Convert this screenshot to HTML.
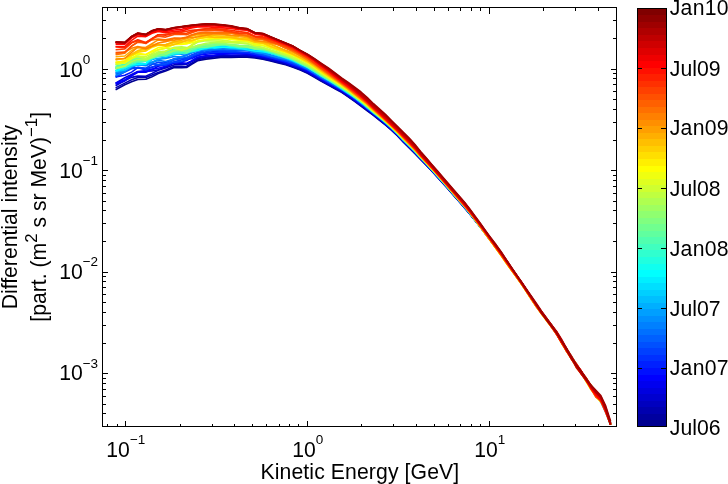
<!DOCTYPE html>
<html lang="en"><head><meta charset="utf-8"><title>Differential intensity vs Kinetic Energy</title>
<style>html,body{margin:0;padding:0;background:#fff;}svg{display:block;}</style></head>
<body>
<svg width="728" height="484" viewBox="0 0 728 484">
<rect width="728" height="484" fill="#fff"/>
<g fill="none" stroke-width="1.6" stroke-linejoin="round" stroke-linecap="butt">
<polyline stroke="#00008f" points="115.6,89.7 124.8,84.7 131.6,81.7 137.8,79.5 145.8,79.3 152.0,76.7 158.2,73.6 165.6,71.0 174.3,67.5 181.7,67.8 186.6,67.5 191.6,64.3 197.5,60.8 206.0,59.1 214.4,58.1 222.8,57.1 231.0,57.5 239.1,57.3 247.2,57.2 255.1,57.9 262.9,59.3 270.6,61.0 278.2,62.9 285.7,64.7 293.0,67.3 300.3,70.1 307.5,73.2 314.5,77.2 321.4,81.3 328.3,85.1 335.0,88.7 341.6,92.4 348.2,96.8 354.6,101.3 361.0,106.0 367.3,110.8 373.5,115.4 379.6,120.3 385.7,125.2 391.7,130.4 397.6,136.0 403.4,142.1 409.2,148.0 415.0,153.7 420.6,159.5 426.3,165.3 431.8,171.0 437.4,177.1 442.9,183.2 448.3,189.3 453.7,195.4 459.1,201.5 464.5,207.7 469.8,214.0 475.1,220.5 480.3,227.2 485.5,233.9 490.7,240.8 495.9,247.5 501.1,254.1 506.2,261.1 511.3,268.3 516.4,275.5 521.5,282.7 526.5,290.3 531.5,298.1 536.6,305.9 541.6,312.7 546.6,319.0 551.6,325.7 556.5,332.7 561.5,340.6 566.4,348.7 571.4,357.4 576.3,365.6 581.2,372.8 586.1,379.6 591.0,386.8 595.9,394.0 600.8,399.9 605.7,410.1 610.6,424.3"/>
<polyline stroke="#0000af" points="115.6,87.9 124.8,83.1 131.6,79.8 137.8,77.5 145.8,77.5 152.0,75.1 158.2,72.4 165.6,69.9 174.3,66.3 181.7,66.6 186.6,66.2 191.6,63.3 197.5,59.9 206.0,58.0 214.4,57.0 222.8,56.1 231.0,56.4 239.1,56.2 247.2,56.2 255.1,57.2 262.9,58.7 270.6,60.5 278.2,62.3 285.7,64.1 293.0,66.8 300.3,69.6 307.5,72.7 314.5,76.6 321.4,80.8 328.3,84.6 335.0,88.2 341.6,91.9 348.2,96.3 354.6,100.8 361.0,105.5 367.3,110.3 373.5,115.1 379.6,119.9 385.7,124.8 391.7,130.0 397.6,135.6 403.4,141.6 409.2,147.5 415.0,153.3 420.6,159.1 426.3,165.0 431.8,170.7 437.4,176.8 442.9,182.9 448.3,189.0 453.7,195.2 459.1,201.3 464.5,207.7 469.8,214.0 475.1,220.4 480.3,226.9 485.5,233.5 490.7,240.3 495.9,247.2 501.1,254.0 506.2,261.1 511.3,268.2 516.4,275.4 521.5,282.8 526.5,290.6 531.5,298.3 536.6,305.8 541.6,312.6 546.6,319.1 551.6,325.7 556.5,332.7 561.5,341.1 566.4,349.1 571.4,356.8 576.3,364.3 581.2,372.1 586.1,380.1 591.0,386.9 595.9,393.2 600.8,399.6 605.7,410.5 610.6,424.1"/>
<polyline stroke="#0000bf" points="115.6,85.7 124.8,80.6 131.6,77.4 137.8,76.1 145.8,76.3 152.0,73.4 158.2,70.3 165.6,68.1 174.3,64.7 181.7,64.8 186.6,64.2 191.6,61.5 197.5,58.8 206.0,57.1 214.4,56.2 222.8,55.3 231.0,55.7 239.1,55.6 247.2,55.7 255.1,56.6 262.9,57.9 270.6,59.8 278.2,61.9 285.7,63.7 293.0,66.2 300.3,68.9 307.5,72.1 314.5,76.2 321.4,80.4 328.3,84.2 335.0,87.8 341.6,91.6 348.2,96.0 354.6,100.5 361.0,105.2 367.3,109.9 373.5,114.6 379.6,119.5 385.7,124.6 391.7,129.9 397.6,135.6 403.4,141.6 409.2,147.2 415.0,152.9 420.6,158.9 426.3,164.7 431.8,170.5 437.4,176.6 442.9,182.5 448.3,188.5 453.7,194.9 459.1,201.2 464.5,207.3 469.8,213.5 475.1,219.9 480.3,226.4 485.5,233.3 490.7,239.9 495.9,246.7 501.1,254.0 506.2,261.2 511.3,268.3 516.4,275.5 521.5,282.7 526.5,290.3 531.5,297.9 536.6,305.6 541.6,312.5 546.6,319.3 551.6,326.4 556.5,333.3 561.5,341.2 566.4,349.3 571.4,357.4 576.3,364.7 581.2,371.6 586.1,379.3 591.0,387.3 595.9,394.0 600.8,399.2 605.7,410.2 610.6,424.8"/>
<polyline stroke="#0000cf" points="115.6,83.2 124.8,77.8 131.6,74.5 137.8,71.5 145.8,71.3 152.0,71.0 158.2,69.8 165.6,67.0 174.3,62.7 181.7,63.4 186.6,64.0 191.6,61.1 197.5,57.6 206.0,56.0 214.4,55.4 222.8,54.8 231.0,55.3 239.1,55.0 247.2,54.8 255.1,55.9 262.9,57.3 270.6,59.1 278.2,61.0 285.7,62.9 293.0,65.6 300.3,68.5 307.5,71.9 314.5,75.9 321.4,79.9 328.3,83.7 335.0,87.2 341.6,90.8 348.2,95.3 354.6,99.9 361.0,104.6 367.3,109.3 373.5,114.1 379.6,119.2 385.7,124.3 391.7,129.5 397.6,135.1 403.4,141.3 409.2,146.9 415.0,152.5 420.6,158.5 426.3,164.6 431.8,170.6 437.4,176.6 442.9,182.7 448.3,188.7 453.7,194.8 459.1,201.0 464.5,207.1 469.8,213.5 475.1,220.5 480.3,227.1 485.5,233.5 490.7,240.1 495.9,247.1 501.1,254.2 506.2,261.3 511.3,268.4 516.4,275.5 521.5,282.8 526.5,290.5 531.5,298.3 536.6,305.7 541.6,312.5 546.6,319.2 551.6,325.7 556.5,332.4 561.5,340.7 566.4,349.1 571.4,357.3 576.3,365.0 581.2,372.8 586.1,380.5 591.0,387.2 595.9,393.5 600.8,399.2 605.7,409.7 610.6,423.9"/>
<polyline stroke="#0000ef" points="115.6,84.3 124.8,80.9 131.6,75.9 137.8,72.2 145.8,72.2 152.0,69.8 158.2,66.3 165.6,64.8 174.3,62.6 181.7,62.9 186.6,63.3 191.6,61.0 197.5,57.3 206.0,55.9 214.4,55.4 222.8,53.9 231.0,53.7 239.1,53.7 247.2,54.3 255.1,56.0 262.9,57.0 270.6,58.3 278.2,60.2 285.7,62.3 293.0,65.2 300.3,68.1 307.5,71.3 314.5,75.2 321.4,79.3 328.3,83.2 335.0,86.9 341.6,90.7 348.2,95.2 354.6,99.9 361.0,104.5 367.3,108.9 373.5,113.6 379.6,118.5 385.7,123.3 391.7,128.7 397.6,134.8 403.4,140.9 409.2,146.5 415.0,152.1 420.6,158.1 426.3,164.2 431.8,170.3 437.4,176.7 442.9,182.5 448.3,188.2 453.7,194.3 459.1,200.7 464.5,206.9 469.8,213.0 475.1,219.7 480.3,226.5 485.5,233.7 490.7,240.8 495.9,247.4 501.1,254.0 506.2,261.2 511.3,268.4 516.4,275.6 521.5,282.8 526.5,290.2 531.5,297.9 536.6,305.7 541.6,312.7 546.6,319.4 551.6,326.0 556.5,332.4 561.5,340.7 566.4,349.3 571.4,357.4 576.3,365.2 581.2,372.8 586.1,379.8 591.0,386.2 595.9,393.2 600.8,399.7 605.7,410.0 610.6,423.4"/>
<polyline stroke="#0000ff" points="115.6,83.2 124.8,79.7 131.6,75.6 137.8,71.7 145.8,70.6 152.0,69.1 158.2,68.2 165.6,66.2 174.3,62.3 181.7,61.8 186.6,60.5 191.6,57.3 197.5,55.1 206.0,54.3 214.4,53.4 222.8,53.2 231.0,53.7 239.1,53.1 247.2,53.2 255.1,54.6 262.9,55.9 270.6,57.7 278.2,59.7 285.7,61.7 293.0,64.3 300.3,67.2 307.5,70.7 314.5,74.7 321.4,78.7 328.3,82.6 335.0,86.3 341.6,90.1 348.2,94.6 354.6,99.2 361.0,104.0 367.3,108.6 373.5,113.5 379.6,118.3 385.7,123.3 391.7,128.8 397.6,134.5 403.4,140.6 409.2,146.2 415.0,151.9 420.6,158.0 426.3,164.1 431.8,170.0 437.4,175.9 442.9,181.9 448.3,188.0 453.7,194.3 459.1,200.3 464.5,206.3 469.8,213.0 475.1,219.9 480.3,226.2 485.5,232.9 490.7,239.8 495.9,246.8 501.1,253.9 506.2,261.1 511.3,268.3 516.4,275.6 521.5,282.9 526.5,290.5 531.5,297.9 536.6,305.2 541.6,312.3 546.6,319.5 551.6,326.2 556.5,332.9 561.5,341.3 566.4,349.3 571.4,357.7 576.3,365.7 581.2,372.0 586.1,378.4 591.0,385.7 595.9,393.0 600.8,399.6 605.7,410.5 610.6,424.2"/>
<polyline stroke="#0010ff" points="115.6,77.0 124.8,75.3 131.6,72.1 137.8,67.6 145.8,68.6 152.0,67.4 158.2,65.0 165.6,62.5 174.3,58.7 181.7,58.5 186.6,59.3 191.6,58.7 197.5,55.7 206.0,53.0 214.4,51.4 222.8,50.7 231.0,52.1 239.1,52.9 247.2,53.0 255.1,54.0 262.9,55.1 270.6,57.3 278.2,59.8 285.7,62.2 293.0,64.9 300.3,67.3 307.5,70.2 314.5,74.2 321.4,78.4 328.3,82.2 335.0,86.0 341.6,89.9 348.2,94.4 354.6,99.0 361.0,103.6 367.3,108.3 373.5,113.1 379.6,118.0 385.7,123.1 391.7,128.5 397.6,134.3 403.4,140.2 409.2,145.9 415.0,151.8 420.6,157.7 426.3,163.6 431.8,169.5 437.4,175.5 442.9,181.9 448.3,188.2 453.7,194.3 459.1,200.4 464.5,206.5 469.8,212.8 475.1,219.6 480.3,226.4 485.5,233.2 490.7,240.0 495.9,247.0 501.1,254.0 506.2,261.2 511.3,268.4 516.4,275.6 521.5,282.8 526.5,290.6 531.5,298.3 536.6,305.9 541.6,312.7 546.6,319.2 551.6,325.9 556.5,333.2 561.5,341.5 566.4,349.1 571.4,356.8 576.3,365.2 581.2,373.3 586.1,380.6 591.0,387.1 595.9,393.3 600.8,399.4 605.7,409.4 610.6,422.7"/>
<polyline stroke="#0030ff" points="115.6,77.2 124.8,71.6 131.6,67.6 137.8,67.8 145.8,70.0 152.0,66.9 158.2,64.9 165.6,65.2 174.3,61.7 181.7,59.9 186.6,58.2 191.6,55.0 197.5,52.8 206.0,52.7 214.4,52.4 222.8,51.9 231.0,52.5 239.1,52.2 247.2,52.4 255.1,54.2 262.9,55.7 270.6,57.6 278.2,59.4 285.7,61.1 293.0,63.7 300.3,66.4 307.5,69.5 314.5,73.9 321.4,78.3 328.3,82.0 335.0,85.6 341.6,89.5 348.2,93.9 354.6,98.2 361.0,102.8 367.3,108.0 373.5,113.4 379.6,118.2 385.7,123.1 391.7,128.6 397.6,134.1 403.4,139.7 409.2,145.8 415.0,152.1 420.6,158.4 426.3,164.4 431.8,170.2 437.4,176.1 442.9,182.2 448.3,188.3 453.7,194.3 459.1,200.5 464.5,207.1 469.8,213.6 475.1,220.0 480.3,226.5 485.5,233.6 490.7,240.6 495.9,247.4 501.1,254.1 506.2,261.2 511.3,268.3 516.4,275.7 521.5,283.2 526.5,290.7 531.5,297.9 536.6,305.4 541.6,312.5 546.6,319.0 551.6,325.6 556.5,333.1 561.5,341.7 566.4,349.5 571.4,357.4 576.3,365.4 581.2,372.8 586.1,380.0 591.0,386.7 595.9,393.1 600.8,398.9 605.7,409.8 610.6,424.8"/>
<polyline stroke="#0040ff" points="115.6,75.9 124.8,72.0 131.6,68.7 137.8,67.4 145.8,68.2 152.0,64.5 158.2,62.2 165.6,63.3 174.3,62.2 181.7,61.5 186.6,59.2 191.6,56.6 197.5,54.3 206.0,51.7 214.4,50.3 222.8,50.6 231.0,51.5 239.1,50.9 247.2,50.3 255.1,52.2 262.9,54.3 270.6,56.3 278.2,58.4 285.7,60.8 293.0,63.5 300.3,66.4 307.5,69.6 314.5,73.4 321.4,77.6 328.3,81.7 335.0,85.8 341.6,89.6 348.2,93.7 354.6,98.3 361.0,103.2 367.3,108.0 373.5,112.7 379.6,117.5 385.7,123.1 391.7,129.1 397.6,134.6 403.4,140.3 409.2,146.3 415.0,152.4 420.6,158.0 426.3,163.8 431.8,169.9 437.4,176.1 442.9,182.1 448.3,188.2 453.7,194.8 459.1,201.1 464.5,207.0 469.8,213.0 475.1,219.4 480.3,226.4 485.5,233.4 490.7,240.4 495.9,247.2 501.1,253.9 506.2,261.0 511.3,268.3 516.4,275.6 521.5,282.8 526.5,290.4 531.5,297.8 536.6,305.3 541.6,312.7 546.6,319.7 551.6,326.7 556.5,333.8 561.5,341.3 566.4,348.4 571.4,356.2 576.3,364.2 581.2,371.8 586.1,379.1 591.0,386.0 595.9,392.9 600.8,398.5 605.7,409.6 610.6,424.7"/>
<polyline stroke="#0050ff" points="115.6,74.2 124.8,71.1 131.6,66.9 137.8,63.5 145.8,63.8 152.0,63.8 158.2,64.6 165.6,63.9 174.3,59.9 181.7,58.2 186.6,57.3 191.6,55.6 197.5,52.6 206.0,50.5 214.4,50.1 222.8,49.7 231.0,50.4 239.1,50.5 247.2,50.4 255.1,52.8 262.9,55.0 270.6,56.4 278.2,58.1 285.7,60.5 293.0,63.0 300.3,65.7 307.5,69.1 314.5,73.5 321.4,77.7 328.3,81.7 335.0,85.7 341.6,89.4 348.2,93.6 354.6,98.3 361.0,103.1 367.3,107.5 373.5,112.5 379.6,117.7 385.7,123.1 391.7,128.7 397.6,134.2 403.4,139.9 409.2,145.8 415.0,151.7 420.6,157.7 426.3,163.6 431.8,169.2 437.4,175.1 442.9,181.4 448.3,187.5 453.7,193.9 459.1,200.4 464.5,206.9 469.8,213.3 475.1,219.7 480.3,226.0 485.5,232.9 490.7,239.8 495.9,246.7 501.1,254.0 506.2,261.1 511.3,268.2 516.4,275.7 521.5,283.1 526.5,290.7 531.5,298.3 536.6,305.9 541.6,312.9 546.6,319.8 551.6,326.4 556.5,333.2 561.5,341.2 566.4,348.7 571.4,356.8 576.3,365.0 581.2,372.1 586.1,379.5 591.0,387.8 595.9,394.1 600.8,397.9 605.7,408.2 610.6,423.7"/>
<polyline stroke="#0070ff" points="115.6,73.1 124.8,69.9 131.6,66.4 137.8,64.4 145.8,65.3 152.0,62.2 158.2,60.4 165.6,61.5 174.3,58.9 181.7,56.4 186.6,54.7 191.6,53.1 197.5,51.0 206.0,49.2 214.4,48.7 222.8,48.7 231.0,49.0 239.1,49.4 247.2,49.4 255.1,50.4 262.9,52.0 270.6,55.0 278.2,57.6 285.7,59.3 293.0,61.7 300.3,65.2 307.5,69.1 314.5,73.2 321.4,77.2 328.3,81.1 335.0,85.1 341.6,88.9 348.2,93.1 354.6,97.9 361.0,103.1 367.3,108.1 373.5,113.0 379.6,117.9 385.7,122.9 391.7,128.2 397.6,134.1 403.4,140.6 409.2,146.2 415.0,151.6 420.6,157.7 426.3,163.8 431.8,169.8 437.4,175.5 442.9,181.3 448.3,187.7 453.7,194.1 459.1,200.5 464.5,206.9 469.8,213.2 475.1,219.8 480.3,226.4 485.5,233.6 490.7,240.9 495.9,247.5 501.1,254.2 506.2,261.4 511.3,268.7 516.4,275.7 521.5,283.0 526.5,290.8 531.5,298.4 536.6,305.8 541.6,312.6 546.6,319.3 551.6,326.0 556.5,332.7 561.5,340.8 566.4,349.2 571.4,357.5 576.3,364.8 581.2,372.2 586.1,379.7 591.0,386.7 595.9,393.3 600.8,399.0 605.7,411.4 610.6,424.8"/>
<polyline stroke="#0080ff" points="115.6,75.6 124.8,71.7 131.6,67.2 137.8,64.6 145.8,65.7 152.0,62.9 158.2,59.3 165.6,58.4 174.3,56.5 181.7,57.0 186.6,55.7 191.6,52.5 197.5,50.7 206.0,50.0 214.4,49.4 222.8,48.7 231.0,48.4 239.1,48.6 247.2,50.1 255.1,52.3 262.9,53.1 270.6,55.3 278.2,57.5 285.7,59.2 293.0,61.6 300.3,65.2 307.5,68.6 314.5,72.5 321.4,76.9 328.3,80.8 335.0,84.7 341.6,89.0 348.2,93.2 354.6,97.5 361.0,102.5 367.3,107.9 373.5,113.0 379.6,117.7 385.7,122.8 391.7,128.2 397.6,133.8 403.4,139.8 409.2,145.6 415.0,151.4 420.6,157.4 426.3,163.5 431.8,169.4 437.4,175.4 442.9,181.7 448.3,188.1 453.7,194.4 459.1,200.6 464.5,206.9 469.8,213.4 475.1,220.1 480.3,226.6 485.5,233.4 490.7,240.5 495.9,247.7 501.1,254.3 506.2,261.1 511.3,268.3 516.4,275.8 521.5,283.3 526.5,290.9 531.5,298.4 536.6,306.0 541.6,312.9 546.6,319.6 551.6,326.0 556.5,332.4 561.5,340.9 566.4,349.2 571.4,357.5 576.3,365.0 581.2,371.9 586.1,379.4 591.0,386.4 595.9,392.4 600.8,397.8 605.7,409.6 610.6,424.8"/>
<polyline stroke="#008fff" points="115.6,73.0 124.8,70.3 131.6,66.5 137.8,63.4 145.8,63.7 152.0,62.0 158.2,59.7 165.6,57.1 174.3,53.8 181.7,54.2 186.6,53.8 191.6,51.7 197.5,50.0 206.0,48.8 214.4,48.0 222.8,47.5 231.0,48.7 239.1,49.4 247.2,49.9 255.1,52.2 262.9,53.4 270.6,55.6 278.2,57.3 285.7,58.6 293.0,61.3 300.3,64.8 307.5,68.1 314.5,72.1 321.4,76.2 328.3,80.1 335.0,84.0 341.6,88.1 348.2,92.8 354.6,97.4 361.0,102.2 367.3,107.2 373.5,112.3 379.6,117.0 385.7,121.9 391.7,127.3 397.6,133.0 403.4,139.4 409.2,145.6 415.0,151.5 420.6,157.4 426.3,163.2 431.8,169.2 437.4,175.5 442.9,181.7 448.3,188.1 453.7,194.5 459.1,200.5 464.5,206.3 469.8,212.6 475.1,219.6 480.3,226.5 485.5,233.5 490.7,240.5 495.9,247.3 501.1,253.9 506.2,261.2 511.3,268.6 516.4,275.7 521.5,282.9 526.5,290.4 531.5,297.9 536.6,306.0 541.6,313.5 546.6,319.9 551.6,325.7 556.5,332.4 561.5,341.2 566.4,349.5 571.4,357.0 576.3,364.8 581.2,373.0 586.1,380.5 591.0,386.8 595.9,392.4 600.8,397.4 605.7,407.9 610.6,422.4"/>
<polyline stroke="#00afff" points="115.6,71.1 124.8,68.0 131.6,65.6 137.8,65.3 145.8,64.3 152.0,59.5 158.2,58.2 165.6,57.5 174.3,52.7 181.7,52.1 186.6,51.9 191.6,50.2 197.5,48.3 206.0,45.7 214.4,45.3 222.8,46.4 231.0,47.7 239.1,48.6 247.2,48.9 255.1,50.7 262.9,51.6 270.6,53.1 278.2,55.5 285.7,58.0 293.0,61.0 300.3,64.2 307.5,67.3 314.5,71.6 321.4,76.3 328.3,80.3 335.0,84.4 341.6,89.0 348.2,93.4 354.6,97.4 361.0,102.4 367.3,107.9 373.5,112.8 379.6,117.4 385.7,122.3 391.7,127.7 397.6,133.4 403.4,139.5 409.2,145.4 415.0,151.3 420.6,157.1 426.3,163.0 431.8,169.0 437.4,175.2 442.9,181.6 448.3,188.0 453.7,194.2 459.1,200.3 464.5,206.4 469.8,212.8 475.1,219.5 480.3,226.4 485.5,233.3 490.7,240.2 495.9,247.3 501.1,254.2 506.2,261.2 511.3,268.4 516.4,275.7 521.5,283.0 526.5,290.7 531.5,298.4 536.6,305.5 541.6,311.9 546.6,318.5 551.6,325.2 556.5,332.8 561.5,341.9 566.4,349.6 571.4,356.7 576.3,364.8 581.2,373.4 586.1,380.5 591.0,387.6 595.9,395.6 600.8,402.2 605.7,412.3 610.6,424.8"/>
<polyline stroke="#00bfff" points="115.6,70.5 124.8,67.9 131.6,62.0 137.8,58.9 145.8,60.2 152.0,57.5 158.2,55.7 165.6,56.7 174.3,54.7 181.7,53.0 186.6,51.8 191.6,50.3 197.5,48.8 206.0,47.8 214.4,46.3 222.8,45.0 231.0,45.5 239.1,46.9 247.2,48.2 255.1,49.8 262.9,50.5 270.6,52.9 278.2,55.7 285.7,57.9 293.0,60.4 300.3,63.4 307.5,66.5 314.5,71.1 321.4,75.8 328.3,79.6 335.0,83.7 341.6,88.1 348.2,92.4 354.6,97.0 361.0,101.9 367.3,106.9 373.5,111.9 379.6,116.7 385.7,122.0 391.7,127.5 397.6,133.2 403.4,139.5 409.2,145.5 415.0,151.4 420.6,157.4 426.3,163.5 431.8,169.7 437.4,175.9 442.9,182.0 448.3,187.8 453.7,193.9 459.1,200.1 464.5,206.0 469.8,212.5 475.1,219.4 480.3,226.0 485.5,232.7 490.7,239.8 495.9,247.1 501.1,254.3 506.2,261.6 511.3,268.6 516.4,275.7 521.5,283.0 526.5,290.7 531.5,298.4 536.6,306.2 541.6,313.3 546.6,319.4 551.6,325.4 556.5,332.1 561.5,340.2 566.4,348.8 571.4,357.8 576.3,365.2 581.2,371.8 586.1,380.1 591.0,388.2 595.9,393.9 600.8,398.5 605.7,409.6 610.6,424.8"/>
<polyline stroke="#00cfff" points="115.6,71.1 124.8,70.0 131.6,66.2 137.8,63.8 145.8,64.1 152.0,59.1 158.2,54.4 165.6,54.1 174.3,52.3 181.7,52.6 186.6,52.6 191.6,49.6 197.5,47.4 206.0,47.8 214.4,47.5 222.8,46.9 231.0,48.1 239.1,48.7 247.2,47.6 255.1,48.2 262.9,49.8 270.6,52.5 278.2,54.9 285.7,57.8 293.0,60.8 300.3,63.5 307.5,67.0 314.5,71.6 321.4,75.6 328.3,79.4 335.0,83.8 341.6,88.0 348.2,92.4 354.6,97.1 361.0,101.8 367.3,106.6 373.5,112.1 379.6,117.2 385.7,122.2 391.7,127.7 397.6,133.7 403.4,139.9 409.2,145.5 415.0,151.4 420.6,157.4 426.3,163.2 431.8,169.4 437.4,175.8 442.9,181.9 448.3,187.8 453.7,193.7 459.1,199.9 464.5,206.3 469.8,213.0 475.1,220.0 480.3,226.8 485.5,233.8 490.7,240.7 495.9,247.2 501.1,253.9 506.2,261.0 511.3,268.4 516.4,275.9 521.5,283.3 526.5,291.0 531.5,298.8 536.6,306.5 541.6,313.3 546.6,319.5 551.6,326.0 556.5,333.1 561.5,341.3 566.4,349.1 571.4,357.7 576.3,365.6 581.2,372.0 586.1,379.1 591.0,386.7 595.9,394.0 600.8,400.1 605.7,410.7 610.6,424.8"/>
<polyline stroke="#00efff" points="115.6,67.4 124.8,66.7 131.6,63.0 137.8,60.7 145.8,59.8 152.0,54.5 158.2,53.3 165.6,55.4 174.3,54.0 181.7,53.3 186.6,51.5 191.6,49.2 197.5,49.0 206.0,48.6 214.4,46.7 222.8,45.1 231.0,45.8 239.1,48.3 247.2,49.8 255.1,51.0 262.9,51.6 270.6,53.2 278.2,55.2 285.7,57.5 293.0,60.0 300.3,63.3 307.5,67.1 314.5,71.4 321.4,75.8 328.3,79.7 335.0,83.5 341.6,87.5 348.2,92.1 354.6,96.7 361.0,101.3 367.3,106.3 373.5,111.5 379.6,116.4 385.7,121.4 391.7,127.1 397.6,133.2 403.4,139.7 409.2,145.5 415.0,150.9 420.6,157.0 426.3,163.3 431.8,169.1 437.4,175.4 442.9,181.8 448.3,187.6 453.7,193.3 459.1,199.6 464.5,206.1 469.8,212.6 475.1,219.1 480.3,226.1 485.5,233.4 490.7,240.4 495.9,247.2 501.1,254.3 506.2,261.4 511.3,268.4 516.4,275.7 521.5,283.2 526.5,290.5 531.5,297.7 536.6,305.6 541.6,313.2 546.6,319.7 551.6,326.1 556.5,333.4 561.5,341.7 566.4,349.9 571.4,358.6 576.3,366.2 581.2,372.5 586.1,379.3 591.0,387.0 595.9,392.6 600.8,398.1 605.7,411.8 610.6,424.8"/>
<polyline stroke="#00ffff" points="115.6,70.9 124.8,67.6 131.6,65.0 137.8,64.2 145.8,63.7 152.0,58.1 158.2,53.9 165.6,52.3 174.3,48.4 181.7,49.0 186.6,50.3 191.6,48.5 197.5,46.6 206.0,46.8 214.4,47.9 222.8,47.3 231.0,47.3 239.1,47.7 247.2,47.2 255.1,49.1 262.9,50.5 270.6,52.3 278.2,54.4 285.7,56.7 293.0,60.2 300.3,63.8 307.5,66.8 314.5,70.8 321.4,75.1 328.3,79.0 335.0,83.4 341.6,88.3 348.2,93.0 354.6,97.2 361.0,101.7 367.3,106.7 373.5,112.0 379.6,117.1 385.7,122.3 391.7,127.7 397.6,133.4 403.4,139.2 409.2,144.7 415.0,150.6 420.6,156.7 426.3,162.7 431.8,168.8 437.4,175.0 442.9,181.4 448.3,187.5 453.7,193.4 459.1,199.5 464.5,205.9 469.8,212.9 475.1,220.1 480.3,226.8 485.5,233.5 490.7,240.4 495.9,247.2 501.1,254.3 506.2,261.3 511.3,268.4 516.4,276.3 521.5,283.7 526.5,290.8 531.5,298.3 536.6,305.9 541.6,312.6 546.6,318.9 551.6,325.7 556.5,333.2 561.5,341.9 566.4,350.1 571.4,358.4 576.3,366.4 581.2,372.9 586.1,379.1 591.0,385.4 595.9,392.7 600.8,399.6 605.7,410.1 610.6,424.8"/>
<polyline stroke="#10ffef" points="115.6,67.8 124.8,64.6 131.6,60.7 137.8,58.6 145.8,60.1 152.0,58.8 158.2,56.2 165.6,53.5 174.3,50.5 181.7,51.5 186.6,51.9 191.6,51.6 197.5,50.4 206.0,47.8 214.4,45.9 222.8,45.0 231.0,45.3 239.1,45.8 247.2,46.2 255.1,48.5 262.9,50.2 270.6,52.7 278.2,54.9 285.7,56.8 293.0,59.8 300.3,63.7 307.5,67.3 314.5,71.5 321.4,75.9 328.3,79.8 335.0,83.8 341.6,88.2 348.2,92.7 354.6,97.0 361.0,102.0 367.3,107.2 373.5,112.3 379.6,117.3 385.7,122.4 391.7,127.6 397.6,133.1 403.4,139.0 409.2,144.7 415.0,150.8 420.6,157.1 426.3,163.2 431.8,169.0 437.4,175.2 442.9,181.8 448.3,188.1 453.7,194.0 459.1,199.9 464.5,206.1 469.8,212.8 475.1,219.5 480.3,226.2 485.5,233.7 490.7,240.9 495.9,247.3 501.1,254.3 506.2,261.7 511.3,268.9 516.4,276.1 521.5,283.2 526.5,290.9 531.5,298.8 536.6,306.1 541.6,312.7 546.6,319.4 551.6,326.3 556.5,333.5 561.5,341.5 566.4,349.3 571.4,357.2 576.3,365.2 581.2,371.8 586.1,377.9 591.0,385.8 595.9,392.9 600.8,399.2 605.7,410.9 610.6,424.4"/>
<polyline stroke="#30ffcf" points="115.6,68.1 124.8,67.8 131.6,64.5 137.8,62.2 145.8,61.3 152.0,56.6 158.2,55.3 165.6,56.2 174.3,53.3 181.7,52.1 186.6,51.2 191.6,48.8 197.5,47.2 206.0,47.3 214.4,45.9 222.8,44.2 231.0,45.6 239.1,47.4 247.2,47.7 255.1,48.9 262.9,49.8 270.6,51.9 278.2,53.7 285.7,56.3 293.0,59.8 300.3,63.2 307.5,66.8 314.5,71.3 321.4,75.5 328.3,79.7 335.0,84.1 341.6,88.0 348.2,92.2 354.6,97.0 361.0,101.7 367.3,106.5 373.5,111.7 379.6,116.6 385.7,121.5 391.7,127.2 397.6,133.1 403.4,138.9 409.2,144.5 415.0,150.7 420.6,157.1 426.3,163.0 431.8,168.8 437.4,175.1 442.9,181.2 448.3,187.5 453.7,193.9 459.1,199.9 464.5,206.0 469.8,212.7 475.1,219.5 480.3,226.3 485.5,233.5 490.7,240.4 495.9,246.8 501.1,253.9 506.2,261.2 511.3,268.4 516.4,275.6 521.5,283.0 526.5,290.7 531.5,298.3 536.6,305.9 541.6,312.9 546.6,319.4 551.6,326.4 556.5,333.9 561.5,341.8 566.4,349.2 571.4,357.0 576.3,364.7 581.2,372.7 586.1,380.3 591.0,386.8 595.9,393.9 600.8,400.1 605.7,410.3 610.6,424.7"/>
<polyline stroke="#40ffbf" points="115.6,66.3 124.8,63.9 131.6,62.3 137.8,62.0 145.8,60.9 152.0,56.2 158.2,54.0 165.6,53.9 174.3,52.1 181.7,53.0 186.6,53.3 191.6,50.9 197.5,48.4 206.0,46.8 214.4,45.4 222.8,44.2 231.0,45.3 239.1,46.5 247.2,46.1 255.1,47.9 262.9,49.9 270.6,52.2 278.2,54.3 285.7,56.7 293.0,59.7 300.3,62.9 307.5,66.0 314.5,70.3 321.4,75.1 328.3,79.3 335.0,83.3 341.6,87.3 348.2,91.8 354.6,96.8 361.0,101.7 367.3,106.6 373.5,112.1 379.6,117.2 385.7,122.1 391.7,127.4 397.6,132.7 403.4,138.5 409.2,144.5 415.0,150.7 420.6,156.9 426.3,162.9 431.8,168.7 437.4,174.8 442.9,181.1 448.3,187.2 453.7,193.4 459.1,199.6 464.5,205.6 469.8,212.0 475.1,219.1 480.3,226.4 485.5,233.6 490.7,240.5 495.9,247.1 501.1,254.1 506.2,261.4 511.3,268.6 516.4,275.8 521.5,283.3 526.5,290.8 531.5,298.2 536.6,306.1 541.6,313.3 546.6,320.0 551.6,326.7 556.5,333.7 561.5,342.4 566.4,350.4 571.4,358.2 576.3,366.2 581.2,373.2 586.1,379.6 591.0,386.4 595.9,393.7 600.8,399.4 605.7,409.6 610.6,424.7"/>
<polyline stroke="#50ffaf" points="115.6,69.1 124.8,65.1 131.6,58.9 137.8,58.2 145.8,60.4 152.0,56.8 158.2,53.0 165.6,51.5 174.3,50.2 181.7,51.2 186.6,50.4 191.6,47.7 197.5,46.2 206.0,45.9 214.4,45.3 222.8,44.3 231.0,45.7 239.1,47.4 247.2,46.7 255.1,48.0 262.9,49.2 270.6,51.8 278.2,55.1 285.7,57.5 293.0,59.3 300.3,62.4 307.5,66.6 314.5,71.1 321.4,75.5 328.3,79.4 335.0,83.2 341.6,87.2 348.2,91.5 354.6,96.3 361.0,101.5 367.3,106.7 373.5,112.2 379.6,117.0 385.7,121.9 391.7,127.7 397.6,133.7 403.4,139.3 409.2,144.8 415.0,151.0 420.6,157.4 426.3,163.0 431.8,168.9 437.4,175.3 442.9,181.4 448.3,187.2 453.7,193.4 459.1,199.7 464.5,206.0 469.8,212.8 475.1,219.9 480.3,226.6 485.5,233.2 490.7,240.4 495.9,247.7 501.1,254.7 506.2,261.8 511.3,268.8 516.4,275.9 521.5,283.3 526.5,290.5 531.5,297.9 536.6,305.9 541.6,312.8 546.6,319.1 551.6,325.3 556.5,332.0 561.5,340.4 566.4,349.1 571.4,356.9 576.3,364.1 581.2,371.8 586.1,378.9 591.0,386.2 595.9,394.1 600.8,399.0 605.7,409.5 610.6,424.8"/>
<polyline stroke="#70ff8f" points="115.6,66.8 124.8,65.6 131.6,62.9 137.8,60.7 145.8,60.6 152.0,57.3 158.2,54.7 165.6,53.8 174.3,50.2 181.7,50.8 186.6,52.1 191.6,49.5 197.5,47.3 206.0,47.1 214.4,45.5 222.8,44.2 231.0,45.0 239.1,45.8 247.2,46.9 255.1,49.1 262.9,49.3 270.6,51.3 278.2,54.0 285.7,56.3 293.0,58.9 300.3,62.2 307.5,65.4 314.5,69.8 321.4,74.5 328.3,78.8 335.0,83.0 341.6,87.1 348.2,91.8 354.6,96.4 361.0,101.0 367.3,105.8 373.5,111.2 379.6,116.5 385.7,121.7 391.7,127.4 397.6,133.4 403.4,139.6 409.2,145.3 415.0,150.8 420.6,156.8 426.3,163.1 431.8,169.2 437.4,175.4 442.9,181.6 448.3,187.8 453.7,194.1 459.1,200.2 464.5,206.2 469.8,212.7 475.1,219.6 480.3,226.7 485.5,233.6 490.7,240.7 495.9,247.7 501.1,254.7 506.2,261.9 511.3,269.0 516.4,276.3 521.5,283.8 526.5,291.0 531.5,298.1 536.6,305.6 541.6,313.1 546.6,320.4 551.6,327.0 556.5,333.4 561.5,341.3 566.4,349.6 571.4,358.6 576.3,366.5 581.2,372.9 586.1,380.2 591.0,387.4 595.9,393.2 600.8,398.8 605.7,408.7 610.6,422.1"/>
<polyline stroke="#80ff80" points="115.6,68.8 124.8,66.1 131.6,59.8 137.8,57.3 145.8,60.3 152.0,58.1 158.2,56.0 165.6,54.7 174.3,50.8 181.7,50.5 186.6,49.8 191.6,47.5 197.5,45.4 206.0,44.8 214.4,45.0 222.8,44.4 231.0,44.5 239.1,45.3 247.2,45.6 255.1,47.3 262.9,48.5 270.6,51.0 278.2,53.4 285.7,55.8 293.0,58.9 300.3,63.0 307.5,66.5 314.5,70.3 321.4,74.8 328.3,79.2 335.0,83.2 341.6,87.2 348.2,91.7 354.6,96.6 361.0,101.5 367.3,106.6 373.5,111.9 379.6,116.7 385.7,121.7 391.7,127.3 397.6,133.2 403.4,139.1 409.2,144.8 415.0,151.1 420.6,157.2 426.3,162.7 431.8,168.5 437.4,174.7 442.9,181.1 448.3,187.3 453.7,193.4 459.1,199.5 464.5,205.7 469.8,212.4 475.1,219.7 480.3,226.7 485.5,233.2 490.7,240.2 495.9,247.4 501.1,254.5 506.2,261.6 511.3,268.8 516.4,276.0 521.5,283.5 526.5,291.1 531.5,298.6 536.6,306.2 541.6,312.7 546.6,319.1 551.6,326.3 556.5,333.4 561.5,341.8 566.4,350.4 571.4,358.3 576.3,364.7 581.2,372.2 586.1,381.4 591.0,388.9 595.9,393.5 600.8,397.7 605.7,408.6 610.6,423.9"/>
<polyline stroke="#8fff70" points="115.6,64.5 124.8,62.7 131.6,57.8 137.8,56.0 145.8,58.5 152.0,55.3 158.2,53.0 165.6,53.4 174.3,50.6 181.7,49.5 186.6,48.5 191.6,47.1 197.5,46.5 206.0,44.7 214.4,42.9 222.8,43.2 231.0,44.8 239.1,46.0 247.2,46.9 255.1,48.5 262.9,48.6 270.6,50.4 278.2,52.8 285.7,55.5 293.0,59.0 300.3,62.8 307.5,65.5 314.5,69.0 321.4,73.7 328.3,78.2 335.0,82.3 341.6,86.5 348.2,91.2 354.6,96.1 361.0,100.9 367.3,105.9 373.5,111.4 379.6,116.3 385.7,121.3 391.7,126.7 397.6,132.6 403.4,138.7 409.2,144.3 415.0,150.5 420.6,156.9 426.3,162.8 431.8,168.6 437.4,174.9 442.9,181.5 448.3,187.7 453.7,193.5 459.1,199.2 464.5,205.6 469.8,212.8 475.1,220.0 480.3,226.9 485.5,233.7 490.7,240.5 495.9,247.4 501.1,254.6 506.2,261.8 511.3,268.9 516.4,276.4 521.5,283.8 526.5,290.8 531.5,298.1 536.6,306.0 541.6,312.4 546.6,318.8 551.6,326.2 556.5,333.4 561.5,341.9 566.4,350.7 571.4,358.1 576.3,364.9 581.2,372.0 586.1,378.8 591.0,386.4 595.9,393.8 600.8,398.9 605.7,410.3 610.6,424.8"/>
<polyline stroke="#afff50" points="115.6,68.2 124.8,66.3 131.6,61.4 137.8,59.2 145.8,60.0 152.0,56.9 158.2,54.1 165.6,51.4 174.3,47.3 181.7,46.9 186.6,47.5 191.6,47.4 197.5,45.5 206.0,43.2 214.4,42.4 222.8,42.1 231.0,42.4 239.1,43.2 247.2,43.7 255.1,45.9 262.9,47.5 270.6,50.2 278.2,52.3 285.7,54.4 293.0,57.6 300.3,61.6 307.5,65.1 314.5,69.6 321.4,74.1 328.3,77.9 335.0,82.2 341.6,87.0 348.2,91.6 354.6,95.8 361.0,100.7 367.3,106.1 373.5,111.6 379.6,116.7 385.7,121.6 391.7,126.9 397.6,132.7 403.4,138.9 409.2,144.3 415.0,149.9 420.6,156.4 426.3,162.9 431.8,169.1 437.4,175.0 442.9,181.1 448.3,187.6 453.7,193.9 459.1,199.9 464.5,206.1 469.8,212.6 475.1,219.5 480.3,226.5 485.5,233.4 490.7,240.5 495.9,247.6 501.1,254.6 506.2,262.1 511.3,269.4 516.4,276.3 521.5,283.3 526.5,291.0 531.5,298.9 536.6,306.6 541.6,313.5 546.6,320.1 551.6,326.4 556.5,332.9 561.5,341.0 566.4,349.6 571.4,357.8 576.3,365.5 581.2,373.6 586.1,379.9 591.0,385.2 595.9,392.1 600.8,398.6 605.7,411.9 610.6,424.8"/>
<polyline stroke="#bfff40" points="115.6,64.5 124.8,62.7 131.6,58.6 137.8,56.8 145.8,58.6 152.0,55.1 158.2,51.7 165.6,51.1 174.3,47.7 181.7,47.9 186.6,48.7 191.6,45.9 197.5,42.2 206.0,40.8 214.4,41.0 222.8,41.8 231.0,42.7 239.1,42.8 247.2,43.6 255.1,46.5 262.9,47.6 270.6,50.2 278.2,52.8 285.7,55.1 293.0,57.7 300.3,61.3 307.5,64.6 314.5,68.6 321.4,73.3 328.3,77.6 335.0,81.7 341.6,85.8 348.2,90.2 354.6,95.2 361.0,100.3 367.3,105.4 373.5,110.8 379.6,116.3 385.7,121.5 391.7,126.7 397.6,132.3 403.4,138.2 409.2,143.9 415.0,150.1 420.6,156.5 426.3,162.4 431.8,168.2 437.4,174.5 442.9,180.8 448.3,187.3 453.7,193.9 459.1,199.9 464.5,205.5 469.8,211.8 475.1,218.8 480.3,226.0 485.5,233.4 490.7,240.5 495.9,247.5 501.1,254.6 506.2,262.1 511.3,269.5 516.4,276.4 521.5,283.4 526.5,291.1 531.5,298.7 536.6,305.9 541.6,312.3 546.6,318.7 551.6,325.6 556.5,333.9 561.5,342.9 566.4,350.1 571.4,358.0 576.3,365.5 581.2,371.8 586.1,379.2 591.0,386.8 595.9,394.3 600.8,400.2 605.7,409.4 610.6,424.2"/>
<polyline stroke="#cfff30" points="115.6,64.3 124.8,61.7 131.6,58.1 137.8,56.3 145.8,56.6 152.0,53.5 158.2,49.9 165.6,48.2 174.3,48.3 181.7,49.9 186.6,48.4 191.6,44.8 197.5,41.1 206.0,39.8 214.4,39.6 222.8,40.1 231.0,41.4 239.1,41.9 247.2,41.7 255.1,43.9 262.9,45.5 270.6,48.4 278.2,50.7 285.7,53.6 293.0,56.8 300.3,59.7 307.5,63.0 314.5,67.9 321.4,73.2 328.3,77.7 335.0,81.7 341.6,85.7 348.2,90.4 354.6,95.3 361.0,100.2 367.3,105.7 373.5,111.3 379.6,116.2 385.7,121.4 391.7,127.1 397.6,132.7 403.4,138.5 409.2,144.3 415.0,150.2 420.6,156.3 426.3,162.4 431.8,168.3 437.4,174.3 442.9,180.3 448.3,186.8 453.7,193.7 459.1,200.2 464.5,206.2 469.8,212.6 475.1,219.5 480.3,226.5 485.5,233.5 490.7,240.4 495.9,247.4 501.1,254.7 506.2,262.0 511.3,269.2 516.4,276.4 521.5,283.8 526.5,291.5 531.5,298.9 536.6,306.3 541.6,313.2 546.6,319.7 551.6,326.0 556.5,333.2 561.5,342.2 566.4,350.7 571.4,358.2 576.3,364.5 581.2,371.6 586.1,379.6 591.0,387.2 595.9,393.5 600.8,399.2 605.7,411.0 610.6,424.8"/>
<polyline stroke="#efff10" points="115.6,62.5 124.8,63.2 131.6,58.6 137.8,54.3 145.8,54.7 152.0,51.7 158.2,49.7 165.6,48.2 174.3,44.3 181.7,43.9 186.6,43.8 191.6,42.8 197.5,41.2 206.0,39.7 214.4,37.6 222.8,36.5 231.0,38.3 239.1,40.0 247.2,41.5 255.1,44.9 262.9,45.5 270.6,47.6 278.2,50.2 285.7,52.7 293.0,55.4 300.3,58.9 307.5,62.9 314.5,67.7 321.4,72.4 328.3,76.8 335.0,81.1 341.6,85.5 348.2,90.2 354.6,95.1 361.0,100.2 367.3,105.1 373.5,110.3 379.6,115.7 385.7,121.3 391.7,126.7 397.6,132.4 403.4,138.7 409.2,144.6 415.0,150.3 420.6,156.6 426.3,162.9 431.8,168.8 437.4,174.8 442.9,180.7 448.3,186.5 453.7,192.8 459.1,199.4 464.5,205.7 469.8,212.1 475.1,219.0 480.3,226.0 485.5,233.2 490.7,240.5 495.9,248.0 501.1,255.6 506.2,263.0 511.3,269.9 516.4,276.5 521.5,283.1 526.5,290.3 531.5,298.2 536.6,306.4 541.6,313.7 546.6,320.5 551.6,327.0 556.5,333.9 561.5,342.6 566.4,350.5 571.4,357.3 576.3,364.2 581.2,372.1 586.1,381.4 591.0,389.8 595.9,395.0 600.8,398.8 605.7,409.7 610.6,424.7"/>
<polyline stroke="#ffff00" points="115.6,62.4 124.8,60.7 131.6,56.0 137.8,53.3 145.8,54.5 152.0,51.0 158.2,47.6 165.6,46.7 174.3,44.4 181.7,44.5 186.6,43.8 191.6,41.8 197.5,39.0 206.0,37.7 214.4,38.2 222.8,38.2 231.0,39.4 239.1,40.1 247.2,39.5 255.1,42.2 262.9,43.6 270.6,46.2 278.2,49.1 285.7,52.2 293.0,55.1 300.3,58.7 307.5,62.4 314.5,66.9 321.4,71.5 328.3,76.1 335.0,80.8 341.6,85.3 348.2,89.6 354.6,94.4 361.0,99.6 367.3,104.9 373.5,110.3 379.6,115.4 385.7,121.2 391.7,127.1 397.6,132.4 403.4,138.2 409.2,143.8 415.0,149.5 420.6,155.9 426.3,162.3 431.8,168.5 437.4,174.5 442.9,180.5 448.3,186.8 453.7,193.1 459.1,199.2 464.5,205.3 469.8,211.9 475.1,219.3 480.3,226.9 485.5,234.3 490.7,241.2 495.9,248.2 501.1,255.4 506.2,262.9 511.3,270.1 516.4,277.1 521.5,284.0 526.5,291.5 531.5,299.1 536.6,306.7 541.6,313.3 546.6,319.2 551.6,325.2 556.5,332.0 561.5,340.4 566.4,349.2 571.4,357.2 576.3,364.5 581.2,373.0 586.1,381.2 591.0,388.8 595.9,396.9 600.8,401.9 605.7,410.6 610.6,424.8"/>
<polyline stroke="#ffef00" points="115.6,62.5 124.8,61.3 131.6,55.9 137.8,51.1 145.8,50.8 152.0,47.4 158.2,45.3 165.6,44.8 174.3,41.3 181.7,41.5 186.6,42.5 191.6,41.2 197.5,38.4 206.0,36.0 214.4,35.9 222.8,36.8 231.0,37.9 239.1,39.2 247.2,40.2 255.1,42.8 262.9,43.6 270.6,46.4 278.2,49.1 285.7,51.7 293.0,54.8 300.3,58.5 307.5,62.0 314.5,66.6 321.4,71.5 328.3,76.1 335.0,80.7 341.6,85.2 348.2,89.8 354.6,94.7 361.0,99.7 367.3,104.5 373.5,109.9 379.6,115.5 385.7,120.8 391.7,126.1 397.6,131.8 403.4,138.1 409.2,144.3 415.0,150.1 420.6,155.9 426.3,162.1 431.8,168.4 437.4,174.7 442.9,180.4 448.3,186.2 453.7,192.8 459.1,199.2 464.5,205.1 469.8,211.7 475.1,219.5 480.3,226.8 485.5,233.6 490.7,240.9 495.9,248.2 501.1,255.6 506.2,262.7 511.3,269.8 516.4,277.0 521.5,284.1 526.5,291.5 531.5,299.1 536.6,306.2 541.6,313.0 546.6,320.4 551.6,326.8 556.5,333.2 561.5,341.3 566.4,348.5 571.4,356.1 576.3,364.4 581.2,372.2 586.1,380.5 591.0,388.4 595.9,394.6 600.8,400.3 605.7,410.7 610.6,424.0"/>
<polyline stroke="#ffcf00" points="115.6,60.0 124.8,58.2 131.6,54.9 137.8,52.2 145.8,50.9 152.0,46.6 158.2,44.6 165.6,44.8 174.3,42.8 181.7,41.8 186.6,41.0 191.6,40.6 197.5,38.8 206.0,37.2 214.4,37.3 222.8,36.7 231.0,37.1 239.1,38.2 247.2,38.5 255.1,41.4 262.9,43.1 270.6,46.6 278.2,49.2 285.7,51.5 293.0,54.3 300.3,57.9 307.5,61.7 314.5,66.4 321.4,71.3 328.3,76.0 335.0,80.2 341.6,84.6 348.2,89.4 354.6,94.2 361.0,98.7 367.3,103.9 373.5,110.1 379.6,115.7 385.7,121.1 391.7,126.8 397.6,132.5 403.4,138.2 409.2,143.9 415.0,149.7 420.6,156.1 426.3,162.4 431.8,168.2 437.4,174.2 442.9,180.5 448.3,186.7 453.7,192.9 459.1,199.2 464.5,205.2 469.8,211.6 475.1,219.1 480.3,226.6 485.5,233.5 490.7,240.8 495.9,248.1 501.1,255.1 506.2,262.1 511.3,269.4 516.4,276.8 521.5,284.0 526.5,291.2 531.5,298.7 536.6,306.8 541.6,314.0 546.6,320.2 551.6,326.5 556.5,333.6 561.5,342.2 566.4,350.0 571.4,357.2 576.3,365.1 581.2,372.3 586.1,379.1 591.0,387.2 595.9,394.2 600.8,399.4 605.7,409.7 610.6,423.4"/>
<polyline stroke="#ffbf00" points="115.6,59.5 124.8,58.5 131.6,54.1 137.8,50.6 145.8,48.6 152.0,44.6 158.2,44.3 165.6,46.1 174.3,44.5 181.7,42.3 186.6,40.2 191.6,38.8 197.5,36.0 206.0,35.5 214.4,37.5 222.8,37.3 231.0,37.4 239.1,38.9 247.2,39.6 255.1,42.2 262.9,42.7 270.6,44.4 278.2,47.2 285.7,50.9 293.0,54.1 300.3,57.5 307.5,61.1 314.5,65.6 321.4,70.5 328.3,75.4 335.0,80.1 341.6,84.6 348.2,89.3 354.6,94.3 361.0,99.3 367.3,104.4 373.5,109.8 379.6,115.4 385.7,121.1 391.7,126.3 397.6,131.9 403.4,138.2 409.2,144.1 415.0,149.8 420.6,155.8 426.3,161.9 431.8,167.8 437.4,174.1 442.9,180.6 448.3,186.9 453.7,193.5 459.1,200.1 464.5,206.0 469.8,212.3 475.1,219.1 480.3,226.1 485.5,233.2 490.7,240.4 495.9,247.5 501.1,254.7 506.2,262.1 511.3,269.1 516.4,276.0 521.5,283.4 526.5,291.4 531.5,299.2 536.6,307.0 541.6,313.9 546.6,320.2 551.6,326.5 556.5,333.5 561.5,343.1 566.4,351.2 571.4,357.6 576.3,364.6 581.2,371.8 586.1,378.2 591.0,386.2 595.9,394.6 600.8,399.9 605.7,410.4 610.6,424.8"/>
<polyline stroke="#ffaf00" points="115.6,56.8 124.8,56.0 131.6,50.5 137.8,47.4 145.8,48.7 152.0,46.2 158.2,44.9 165.6,44.8 174.3,41.8 181.7,40.2 186.6,38.8 191.6,36.3 197.5,34.5 206.0,35.0 214.4,35.0 222.8,34.7 231.0,35.8 239.1,36.8 247.2,37.5 255.1,41.0 262.9,41.5 270.6,44.0 278.2,47.5 285.7,50.2 293.0,52.4 300.3,55.8 307.5,59.6 314.5,64.6 321.4,69.9 328.3,74.5 335.0,79.1 341.6,84.1 348.2,89.1 354.6,93.8 361.0,98.8 367.3,104.4 373.5,110.1 379.6,115.1 385.7,120.2 391.7,125.5 397.6,131.3 403.4,137.5 409.2,143.5 415.0,149.8 420.6,156.1 426.3,162.1 431.8,168.0 437.4,173.8 442.9,179.8 448.3,186.2 453.7,192.6 459.1,198.8 464.5,205.0 469.8,211.6 475.1,218.8 480.3,226.2 485.5,233.5 490.7,240.6 495.9,247.8 501.1,254.8 506.2,262.0 511.3,269.6 516.4,276.9 521.5,284.0 526.5,291.8 531.5,299.8 536.6,307.1 541.6,313.6 546.6,320.7 551.6,327.0 556.5,333.3 561.5,341.7 566.4,350.1 571.4,357.9 576.3,365.9 581.2,373.5 586.1,379.5 591.0,386.4 595.9,394.9 600.8,401.5 605.7,411.4 610.6,424.2"/>
<polyline stroke="#ff8f00" points="115.6,59.1 124.8,58.5 131.6,52.4 137.8,47.1 145.8,47.5 152.0,43.6 158.2,39.9 165.6,41.1 174.3,40.1 181.7,38.6 186.6,37.7 191.6,37.8 197.5,37.0 206.0,35.1 214.4,33.7 222.8,34.1 231.0,35.3 239.1,35.7 247.2,36.3 255.1,40.5 262.9,41.5 270.6,42.8 278.2,44.7 285.7,47.9 293.0,51.4 300.3,55.9 307.5,60.1 314.5,64.6 321.4,69.4 328.3,74.1 335.0,78.9 341.6,83.7 348.2,88.7 354.6,94.1 361.0,99.0 367.3,103.7 373.5,109.3 379.6,114.5 385.7,119.8 391.7,125.5 397.6,131.5 403.4,137.7 409.2,143.4 415.0,149.2 420.6,155.3 426.3,161.5 431.8,167.8 437.4,174.3 442.9,180.6 448.3,186.8 453.7,193.1 459.1,199.2 464.5,205.0 469.8,211.4 475.1,218.7 480.3,226.5 485.5,233.9 490.7,240.9 495.9,247.9 501.1,254.8 506.2,262.0 511.3,269.3 516.4,276.7 521.5,284.0 526.5,291.3 531.5,298.8 536.6,306.6 541.6,313.3 546.6,320.0 551.6,327.3 556.5,334.0 561.5,342.2 566.4,351.1 571.4,359.0 576.3,366.0 581.2,372.7 586.1,379.0 591.0,385.1 595.9,392.0 600.8,398.6 605.7,409.1 610.6,424.5"/>
<polyline stroke="#ff8000" points="115.6,53.5 124.8,52.1 131.6,48.3 137.8,46.6 145.8,48.9 152.0,46.2 158.2,43.0 165.6,41.7 174.3,38.5 181.7,38.1 186.6,37.2 191.6,35.1 197.5,33.8 206.0,33.1 214.4,33.2 222.8,33.3 231.0,33.4 239.1,34.7 247.2,35.5 255.1,38.2 262.9,39.7 270.6,42.8 278.2,44.7 285.7,47.8 293.0,51.3 300.3,55.4 307.5,59.6 314.5,64.0 321.4,69.3 328.3,74.4 335.0,79.1 341.6,83.6 348.2,88.2 354.6,93.1 361.0,98.3 367.3,103.5 373.5,109.4 379.6,114.8 385.7,120.0 391.7,125.6 397.6,131.4 403.4,137.3 409.2,143.4 415.0,149.4 420.6,155.4 426.3,161.5 431.8,167.6 437.4,173.9 442.9,180.2 448.3,186.5 453.7,192.8 459.1,199.0 464.5,205.3 469.8,212.1 475.1,219.2 480.3,226.1 485.5,233.0 490.7,240.2 495.9,247.7 501.1,255.2 506.2,262.8 511.3,269.9 516.4,276.6 521.5,283.7 526.5,291.3 531.5,299.1 536.6,307.0 541.6,313.7 546.6,319.5 551.6,326.2 556.5,334.0 561.5,342.2 566.4,350.0 571.4,358.3 576.3,365.5 581.2,372.1 586.1,378.5 591.0,385.6 595.9,393.3 600.8,398.3 605.7,408.3 610.6,423.5"/>
<polyline stroke="#ff7000" points="115.6,54.7 124.8,53.1 131.6,46.0 137.8,41.9 145.8,42.9 152.0,39.9 158.2,39.0 165.6,39.9 174.3,38.1 181.7,38.5 186.6,37.3 191.6,35.1 197.5,33.1 206.0,32.2 214.4,32.9 222.8,32.7 231.0,32.6 239.1,34.6 247.2,35.8 255.1,39.1 262.9,39.3 270.6,41.3 278.2,44.6 285.7,48.3 293.0,50.9 300.3,54.4 307.5,58.6 314.5,63.3 321.4,67.8 328.3,72.4 335.0,77.7 341.6,83.0 348.2,87.8 354.6,92.8 361.0,98.0 367.3,103.3 373.5,108.7 379.6,114.1 385.7,119.6 391.7,125.1 397.6,131.0 403.4,137.2 409.2,142.8 415.0,148.8 420.6,155.5 426.3,161.9 431.8,167.5 437.4,173.5 442.9,180.2 448.3,186.7 453.7,192.7 459.1,198.8 464.5,205.0 469.8,211.5 475.1,218.5 480.3,225.7 485.5,233.1 490.7,240.5 495.9,247.6 501.1,254.7 506.2,262.1 511.3,269.3 516.4,276.3 521.5,283.1 526.5,290.5 531.5,298.4 536.6,305.8 541.6,312.6 546.6,319.5 551.6,325.9 556.5,333.3 561.5,341.5 566.4,348.6 571.4,358.2 576.3,367.7 581.2,373.7 586.1,380.3 591.0,389.1 595.9,395.9 600.8,399.2 605.7,409.4 610.6,424.6"/>
<polyline stroke="#ff5000" points="115.6,52.6 124.8,52.0 131.6,46.2 137.8,42.2 145.8,42.7 152.0,38.6 158.2,36.3 165.6,37.1 174.3,34.5 181.7,34.1 186.6,34.8 191.6,32.7 197.5,30.7 206.0,30.6 214.4,30.6 222.8,30.9 231.0,31.9 239.1,33.4 247.2,33.9 255.1,37.1 262.9,38.6 270.6,41.7 278.2,43.7 285.7,46.8 293.0,50.0 300.3,53.6 307.5,57.9 314.5,63.3 321.4,68.4 328.3,73.3 335.0,78.2 341.6,82.8 348.2,87.6 354.6,92.8 361.0,98.0 367.3,103.2 373.5,109.0 379.6,114.4 385.7,120.1 391.7,125.6 397.6,130.9 403.4,136.8 409.2,142.8 415.0,148.8 420.6,155.1 426.3,161.2 431.8,167.4 437.4,174.0 442.9,180.4 448.3,186.7 453.7,193.0 459.1,199.3 464.5,205.7 469.8,212.2 475.1,218.9 480.3,225.5 485.5,232.2 490.7,239.8 495.9,247.4 501.1,254.6 506.2,261.8 511.3,269.2 516.4,276.4 521.5,283.2 526.5,290.3 531.5,298.1 536.6,306.1 541.6,313.2 546.6,319.5 551.6,325.9 556.5,333.6 561.5,342.4 566.4,350.5 571.4,359.0 576.3,366.6 581.2,372.4 586.1,377.8 591.0,385.8 595.9,395.2 600.8,401.2 605.7,410.5 610.6,424.2"/>
<polyline stroke="#ff4000" points="115.6,49.7 124.8,49.0 131.6,42.8 137.8,40.7 145.8,43.5 152.0,39.0 158.2,34.7 165.6,34.3 174.3,32.9 181.7,33.6 186.6,33.2 191.6,31.4 197.5,30.0 206.0,28.7 214.4,28.9 222.8,30.2 231.0,31.8 239.1,33.3 247.2,33.1 255.1,36.5 262.9,37.7 270.6,40.2 278.2,42.7 285.7,45.8 293.0,49.2 300.3,53.5 307.5,57.7 314.5,62.8 321.4,67.8 328.3,72.4 335.0,77.3 341.6,82.3 348.2,87.2 354.6,92.3 361.0,97.4 367.3,102.7 373.5,108.4 379.6,113.5 385.7,119.1 391.7,125.2 397.6,131.3 403.4,137.2 409.2,142.9 415.0,149.1 420.6,155.7 426.3,161.6 431.8,167.3 437.4,173.6 442.9,179.8 448.3,186.0 453.7,192.5 459.1,198.8 464.5,205.0 469.8,211.8 475.1,218.7 480.3,225.6 485.5,232.6 490.7,239.8 495.9,247.0 501.1,254.3 506.2,261.9 511.3,269.1 516.4,276.1 521.5,283.1 526.5,290.3 531.5,298.0 536.6,305.8 541.6,313.0 546.6,320.1 551.6,327.2 556.5,334.3 561.5,342.3 566.4,350.0 571.4,357.9 576.3,366.2 581.2,373.3 586.1,379.8 591.0,388.8 595.9,397.2 600.8,400.7 605.7,409.3 610.6,423.6"/>
<polyline stroke="#ff3000" points="115.6,46.8 124.8,47.9 131.6,42.5 137.8,39.7 145.8,42.5 152.0,38.6 158.2,34.8 165.6,35.2 174.3,33.2 181.7,32.1 186.6,31.2 191.6,30.4 197.5,29.9 206.0,28.9 214.4,28.8 222.8,29.4 231.0,30.3 239.1,31.6 247.2,32.5 255.1,36.4 262.9,36.9 270.6,39.5 278.2,42.3 285.7,45.2 293.0,48.3 300.3,52.6 307.5,56.7 314.5,61.3 321.4,66.7 328.3,71.9 335.0,76.8 341.6,81.8 348.2,86.7 354.6,91.5 361.0,96.3 367.3,101.9 373.5,108.3 379.6,114.0 385.7,119.6 391.7,124.9 397.6,130.3 403.4,136.2 409.2,142.1 415.0,148.2 420.6,154.6 426.3,161.0 431.8,167.4 437.4,173.6 442.9,179.8 448.3,185.7 453.7,191.8 459.1,198.3 464.5,204.9 469.8,211.6 475.1,218.6 480.3,225.7 485.5,232.8 490.7,240.1 495.9,247.0 501.1,253.9 506.2,261.3 511.3,268.4 516.4,275.3 521.5,282.6 526.5,290.5 531.5,298.3 536.6,305.7 541.6,312.8 546.6,319.9 551.6,326.0 556.5,332.8 561.5,342.4 566.4,350.9 571.4,357.5 576.3,363.5 581.2,371.3 586.1,380.1 591.0,388.3 595.9,394.9 600.8,399.0 605.7,409.6 610.6,424.3"/>
<polyline stroke="#ff1000" points="115.6,46.6 124.8,46.5 131.6,40.4 137.8,36.2 145.8,36.6 152.0,33.2 158.2,31.4 165.6,32.6 174.3,31.5 181.7,30.9 186.6,29.5 191.6,27.9 197.5,27.0 206.0,26.8 214.4,27.4 222.8,27.9 231.0,28.5 239.1,29.7 247.2,30.2 255.1,34.1 262.9,35.3 270.6,38.7 278.2,41.8 285.7,44.6 293.0,47.8 300.3,52.2 307.5,56.1 314.5,60.9 321.4,66.1 328.3,70.9 335.0,76.3 341.6,81.7 348.2,86.5 354.6,91.1 361.0,96.3 367.3,102.0 373.5,107.9 379.6,113.3 385.7,119.0 391.7,124.8 397.6,130.4 403.4,136.3 409.2,142.1 415.0,148.3 420.6,154.9 426.3,161.2 431.8,167.2 437.4,173.4 442.9,179.6 448.3,185.6 453.7,191.7 459.1,198.0 464.5,204.3 469.8,210.9 475.1,218.0 480.3,225.3 485.5,232.4 490.7,239.4 495.9,246.7 501.1,253.9 506.2,261.1 511.3,268.6 516.4,275.7 521.5,283.1 526.5,291.0 531.5,298.1 536.6,305.6 541.6,312.7 546.6,318.9 551.6,325.7 556.5,333.8 561.5,342.6 566.4,349.5 571.4,357.2 576.3,365.6 581.2,372.2 586.1,378.7 591.0,387.0 595.9,394.5 600.8,400.6 605.7,412.5 610.6,424.8"/>
<polyline stroke="#ff0000" points="115.6,44.1 124.8,44.1 131.6,37.8 137.8,34.8 145.8,36.3 152.0,32.6 158.2,30.5 165.6,31.4 174.3,30.0 181.7,29.2 186.6,28.1 191.6,27.0 197.5,26.4 206.0,25.9 214.4,26.0 222.8,26.4 231.0,27.3 239.1,29.0 247.2,29.9 255.1,33.9 262.9,34.8 270.6,38.0 278.2,41.2 285.7,44.3 293.0,47.3 300.3,51.5 307.5,55.7 314.5,60.6 321.4,65.8 328.3,70.7 335.0,76.1 341.6,81.0 348.2,85.5 354.6,90.6 361.0,95.9 367.3,101.5 373.5,107.3 379.6,112.5 385.7,118.4 391.7,124.5 397.6,130.1 403.4,136.0 409.2,141.6 415.0,147.6 420.6,154.4 426.3,160.9 431.8,167.1 437.4,173.4 442.9,179.6 448.3,185.7 453.7,192.0 459.1,198.5 464.5,204.9 469.8,211.3 475.1,218.1 480.3,225.0 485.5,232.2 490.7,239.4 495.9,246.2 501.1,253.1 506.2,260.7 511.3,268.3 516.4,275.6 521.5,282.5 526.5,290.3 531.5,298.1 536.6,305.2 541.6,312.0 546.6,319.6 551.6,326.6 556.5,332.3 561.5,340.1 566.4,349.9 571.4,358.7 576.3,364.4 581.2,370.8 586.1,379.9 591.0,388.2 595.9,394.9 600.8,399.6 605.7,409.1 610.6,423.7"/>
<polyline stroke="#ef0000" points="115.6,42.9 124.8,43.2 131.6,36.7 137.8,33.6 145.8,35.3 152.0,31.5 158.2,29.3 165.6,30.3 174.3,28.3 181.7,27.3 186.6,26.7 191.6,25.9 197.5,25.3 206.0,24.7 214.4,24.8 222.8,25.4 231.0,26.6 239.1,28.6 247.2,29.5 255.1,33.4 262.9,34.2 270.6,37.5 278.2,40.6 285.7,43.8 293.0,46.8 300.3,51.1 307.5,55.2 314.5,60.1 321.4,65.4 328.3,70.3 335.0,75.3 341.6,80.1 348.2,84.8 354.6,90.4 361.0,95.9 367.3,101.3 373.5,107.2 379.6,112.7 385.7,118.3 391.7,124.1 397.6,129.9 403.4,135.5 409.2,141.0 415.0,147.1 420.6,153.6 426.3,160.0 431.8,166.6 437.4,173.2 442.9,179.6 448.3,185.7 453.7,191.7 459.1,198.0 464.5,204.2 469.8,210.9 475.1,217.9 480.3,224.7 485.5,231.9 490.7,239.1 495.9,246.1 501.1,253.6 506.2,261.1 511.3,268.0 516.4,274.9 521.5,282.0 526.5,289.8 531.5,297.3 536.6,304.6 541.6,312.1 546.6,319.2 551.6,325.4 556.5,332.0 561.5,340.5 566.4,348.7 571.4,356.1 576.3,364.8 581.2,373.9 586.1,380.8 591.0,387.4 595.9,393.1 600.8,397.6 605.7,409.4 610.6,424.8"/>
<polyline stroke="#cf0000" points="115.6,42.3 124.8,42.9 131.6,37.1 137.8,33.7 145.8,34.7 152.0,31.0 158.2,29.1 165.6,30.3 174.3,28.3 181.7,27.2 186.6,26.4 191.6,25.6 197.5,25.0 206.0,24.4 214.4,24.6 222.8,25.3 231.0,26.4 239.1,28.2 247.2,29.0 255.1,33.0 262.9,33.9 270.6,37.2 278.2,40.3 285.7,43.4 293.0,46.5 300.3,50.8 307.5,55.0 314.5,59.7 321.4,64.6 328.3,69.5 335.0,74.7 341.6,79.6 348.2,84.3 354.6,89.5 361.0,95.0 367.3,100.6 373.5,106.7 379.6,111.9 385.7,117.1 391.7,122.8 397.6,128.9 403.4,135.2 409.2,141.0 415.0,147.3 420.6,153.9 426.3,159.9 431.8,166.0 437.4,172.5 442.9,179.0 448.3,185.3 453.7,191.5 459.1,197.5 464.5,203.5 469.8,210.0 475.1,217.3 480.3,224.4 485.5,231.2 490.7,238.7 495.9,246.3 501.1,253.0 506.2,260.0 511.3,267.7 516.4,275.4 521.5,282.7 526.5,290.3 531.5,297.8 536.6,305.8 541.6,313.5 546.6,319.6 551.6,325.2 556.5,332.3 561.5,341.2 566.4,349.7 571.4,357.8 576.3,364.6 581.2,371.1 586.1,379.1 591.0,386.7 595.9,392.3 600.8,396.8 605.7,407.6 610.6,423.0"/>
<polyline stroke="#bf0000" points="115.6,42.2 124.8,42.6 131.6,36.6 137.8,33.4 145.8,34.6 152.0,30.9 158.2,29.1 165.6,29.9 174.3,27.7 181.7,26.7 186.6,26.1 191.6,25.5 197.5,24.9 206.0,24.3 214.4,24.5 222.8,25.2 231.0,26.3 239.1,28.2 247.2,29.0 255.1,32.9 262.9,33.8 270.6,37.1 278.2,40.2 285.7,43.3 293.0,46.3 300.3,50.6 307.5,54.7 314.5,59.4 321.4,64.3 328.3,69.0 335.0,74.2 341.6,79.3 348.2,84.1 354.6,89.1 361.0,94.1 367.3,99.5 373.5,105.4 379.6,110.5 385.7,116.3 391.7,122.4 397.6,128.2 403.4,133.9 409.2,139.5 415.0,146.0 420.6,153.2 426.3,159.5 431.8,165.4 437.4,171.8 442.9,178.4 448.3,184.8 453.7,191.2 459.1,197.2 464.5,203.1 469.8,210.1 475.1,217.3 480.3,224.2 485.5,231.4 490.7,238.6 495.9,245.7 501.1,252.5 506.2,259.7 511.3,267.5 516.4,275.4 521.5,283.2 526.5,290.9 531.5,298.0 536.6,305.1 541.6,311.7 546.6,318.3 551.6,324.9 556.5,331.3 561.5,339.1 566.4,348.1 571.4,358.0 576.3,367.2 581.2,373.7 586.1,379.6 591.0,386.5 595.9,392.1 600.8,396.4 605.7,407.9 610.6,424.8"/>
<polyline stroke="#af0000" points="115.6,42.1 124.8,42.5 131.6,36.5 137.8,33.3 145.8,34.6 152.0,30.9 158.2,28.9 165.6,29.8 174.3,27.7 181.7,26.8 186.6,26.1 191.6,25.3 197.5,24.7 206.0,24.1 214.4,24.4 222.8,25.0 231.0,26.1 239.1,28.0 247.2,28.9 255.1,32.9 262.9,33.6 270.6,36.9 278.2,40.1 285.7,43.3 293.0,46.3 300.3,50.6 307.5,54.5 314.5,59.0 321.4,63.9 328.3,68.5 335.0,73.6 341.6,78.6 348.2,83.2 354.6,88.0 361.0,92.9 367.3,98.3 373.5,104.6 379.6,110.0 385.7,115.5 391.7,121.4 397.6,127.3 403.4,133.3 409.2,139.0 415.0,145.4 420.6,152.1 426.3,158.3 431.8,164.9 437.4,171.4 442.9,177.7 448.3,184.1 453.7,190.3 459.1,196.4 464.5,202.6 469.8,209.4 475.1,216.7 480.3,223.7 485.5,231.0 490.7,238.1 495.9,244.6 501.1,251.7 506.2,259.6 511.3,267.2 516.4,274.8 521.5,282.4 526.5,289.6 531.5,296.4 536.6,303.7 541.6,311.2 546.6,318.3 551.6,325.3 556.5,332.2 561.5,340.4 566.4,349.9 571.4,358.7 576.3,365.3 581.2,371.0 586.1,378.0 591.0,385.7 595.9,392.1 600.8,397.6 605.7,409.7 610.6,424.8"/>
<polyline stroke="#9f0000" points="115.6,41.9 124.8,42.4 131.6,36.4 137.8,33.0 145.8,34.2 152.0,30.6 158.2,28.7 165.6,29.6 174.3,27.5 181.7,26.5 186.6,25.9 191.6,25.2 197.5,24.5 206.0,23.8 214.4,24.1 222.8,24.7 231.0,25.7 239.1,27.6 247.2,28.6 255.1,32.7 262.9,33.5 270.6,36.7 278.2,39.9 285.7,43.1 293.0,46.1 300.3,50.4 307.5,54.1 314.5,58.6 321.4,63.3 328.3,67.9 335.0,73.0 341.6,77.9 348.2,82.4 354.6,87.2 361.0,92.0 367.3,97.5 373.5,103.7 379.6,109.1 385.7,114.6 391.7,120.7 397.6,126.6 403.4,132.4 409.2,138.1 415.0,144.6 420.6,151.6 426.3,158.0 431.8,164.4 437.4,170.8 442.9,177.3 448.3,183.6 453.7,189.8 459.1,196.0 464.5,202.2 469.8,209.1 475.1,216.3 480.3,223.3 485.5,230.6 490.7,237.8 495.9,244.7 501.1,252.1 506.2,260.0 511.3,267.4 516.4,274.6 521.5,281.9 526.5,289.2 531.5,296.6 536.6,304.7 541.6,312.7 546.6,320.1 551.6,326.6 556.5,333.0 561.5,340.7 566.4,348.2 571.4,356.6 576.3,364.6 581.2,371.8 586.1,379.3 591.0,385.1 595.9,390.2 600.8,395.5 605.7,405.9 610.6,421.2"/>
</g>
<g stroke="#000" stroke-width="1" fill="none" shape-rendering="crispEdges">
<rect x="102.5" y="7.5" width="514.0" height="419.0"/>
<path d="M107.5 426.0v-2M107.5 8.0v3M117.5 426.0v-2M117.5 8.0v3M125.5 426.0v-5M125.5 8.0v6M180.5 426.0v-2M180.5 8.0v3M212.5 426.0v-2M212.5 8.0v3M234.5 426.0v-2M234.5 8.0v3M252.5 426.0v-2M252.5 8.0v3M266.5 426.0v-2M266.5 8.0v3M279.5 426.0v-2M279.5 8.0v3M289.5 426.0v-2M289.5 8.0v3M298.5 426.0v-2M298.5 8.0v3M307.5 426.0v-5M307.5 8.0v6M361.5 426.0v-2M361.5 8.0v3M393.5 426.0v-2M393.5 8.0v3M416.5 426.0v-2M416.5 8.0v3M434.5 426.0v-2M434.5 8.0v3M448.5 426.0v-2M448.5 8.0v3M460.5 426.0v-2M460.5 8.0v3M471.5 426.0v-2M471.5 8.0v3M480.5 426.0v-2M480.5 8.0v3M489.5 426.0v-5M489.5 8.0v6M543.5 426.0v-2M543.5 8.0v3M575.5 426.0v-2M575.5 8.0v3M598.5 426.0v-2M598.5 8.0v3M103.0 413.5h3M616.0 413.5h-3M103.0 404.5h3M616.0 404.5h-3M103.0 396.5h3M616.0 396.5h-3M103.0 389.5h3M616.0 389.5h-3M103.0 383.5h3M616.0 383.5h-3M103.0 378.5h3M616.0 378.5h-3M103.0 373.5h5M616.0 373.5h-5M103.0 343.5h3M616.0 343.5h-3M103.0 325.5h3M616.0 325.5h-3M103.0 312.5h3M616.0 312.5h-3M103.0 302.5h3M616.0 302.5h-3M103.0 294.5h3M616.0 294.5h-3M103.0 287.5h3M616.0 287.5h-3M103.0 281.5h3M616.0 281.5h-3M103.0 276.5h3M616.0 276.5h-3M103.0 272.5h5M616.0 272.5h-5M103.0 241.5h3M616.0 241.5h-3M103.0 223.5h3M616.0 223.5h-3M103.0 210.5h3M616.0 210.5h-3M103.0 201.5h3M616.0 201.5h-3M103.0 193.5h3M616.0 193.5h-3M103.0 186.5h3M616.0 186.5h-3M103.0 180.5h3M616.0 180.5h-3M103.0 175.5h3M616.0 175.5h-3M103.0 170.5h5M616.0 170.5h-5M103.0 140.5h3M616.0 140.5h-3M103.0 122.5h3M616.0 122.5h-3M103.0 109.5h3M616.0 109.5h-3M103.0 99.5h3M616.0 99.5h-3M103.0 91.5h3M616.0 91.5h-3M103.0 84.5h3M616.0 84.5h-3M103.0 78.5h3M616.0 78.5h-3M103.0 73.5h3M616.0 73.5h-3M103.0 69.5h5M616.0 69.5h-5M103.0 38.5h3M616.0 38.5h-3M103.0 20.5h3M616.0 20.5h-3"/>
</g>
<g shape-rendering="crispEdges">
<rect x="637.5" y="419.97" width="29.0" height="6.83" fill="#00008f"/>
<rect x="637.5" y="413.44" width="29.0" height="6.83" fill="#00009f"/>
<rect x="637.5" y="406.91" width="29.0" height="6.83" fill="#0000af"/>
<rect x="637.5" y="400.38" width="29.0" height="6.83" fill="#0000bf"/>
<rect x="637.5" y="393.84" width="29.0" height="6.83" fill="#0000cf"/>
<rect x="637.5" y="387.31" width="29.0" height="6.83" fill="#0000df"/>
<rect x="637.5" y="380.78" width="29.0" height="6.83" fill="#0000ef"/>
<rect x="637.5" y="374.25" width="29.0" height="6.83" fill="#0000ff"/>
<rect x="637.5" y="367.72" width="29.0" height="6.83" fill="#0010ff"/>
<rect x="637.5" y="361.19" width="29.0" height="6.83" fill="#0020ff"/>
<rect x="637.5" y="354.66" width="29.0" height="6.83" fill="#0030ff"/>
<rect x="637.5" y="348.12" width="29.0" height="6.83" fill="#0040ff"/>
<rect x="637.5" y="341.59" width="29.0" height="6.83" fill="#0050ff"/>
<rect x="637.5" y="335.06" width="29.0" height="6.83" fill="#0060ff"/>
<rect x="637.5" y="328.53" width="29.0" height="6.83" fill="#0070ff"/>
<rect x="637.5" y="322.00" width="29.0" height="6.83" fill="#0080ff"/>
<rect x="637.5" y="315.47" width="29.0" height="6.83" fill="#008fff"/>
<rect x="637.5" y="308.94" width="29.0" height="6.83" fill="#009fff"/>
<rect x="637.5" y="302.41" width="29.0" height="6.83" fill="#00afff"/>
<rect x="637.5" y="295.88" width="29.0" height="6.83" fill="#00bfff"/>
<rect x="637.5" y="289.34" width="29.0" height="6.83" fill="#00cfff"/>
<rect x="637.5" y="282.81" width="29.0" height="6.83" fill="#00dfff"/>
<rect x="637.5" y="276.28" width="29.0" height="6.83" fill="#00efff"/>
<rect x="637.5" y="269.75" width="29.0" height="6.83" fill="#00ffff"/>
<rect x="637.5" y="263.22" width="29.0" height="6.83" fill="#10ffef"/>
<rect x="637.5" y="256.69" width="29.0" height="6.83" fill="#20ffdf"/>
<rect x="637.5" y="250.16" width="29.0" height="6.83" fill="#30ffcf"/>
<rect x="637.5" y="243.62" width="29.0" height="6.83" fill="#40ffbf"/>
<rect x="637.5" y="237.09" width="29.0" height="6.83" fill="#50ffaf"/>
<rect x="637.5" y="230.56" width="29.0" height="6.83" fill="#60ff9f"/>
<rect x="637.5" y="224.03" width="29.0" height="6.83" fill="#70ff8f"/>
<rect x="637.5" y="217.50" width="29.0" height="6.83" fill="#80ff80"/>
<rect x="637.5" y="210.97" width="29.0" height="6.83" fill="#8fff70"/>
<rect x="637.5" y="204.44" width="29.0" height="6.83" fill="#9fff60"/>
<rect x="637.5" y="197.91" width="29.0" height="6.83" fill="#afff50"/>
<rect x="637.5" y="191.38" width="29.0" height="6.83" fill="#bfff40"/>
<rect x="637.5" y="184.84" width="29.0" height="6.83" fill="#cfff30"/>
<rect x="637.5" y="178.31" width="29.0" height="6.83" fill="#dfff20"/>
<rect x="637.5" y="171.78" width="29.0" height="6.83" fill="#efff10"/>
<rect x="637.5" y="165.25" width="29.0" height="6.83" fill="#ffff00"/>
<rect x="637.5" y="158.72" width="29.0" height="6.83" fill="#ffef00"/>
<rect x="637.5" y="152.19" width="29.0" height="6.83" fill="#ffdf00"/>
<rect x="637.5" y="145.66" width="29.0" height="6.83" fill="#ffcf00"/>
<rect x="637.5" y="139.12" width="29.0" height="6.83" fill="#ffbf00"/>
<rect x="637.5" y="132.59" width="29.0" height="6.83" fill="#ffaf00"/>
<rect x="637.5" y="126.06" width="29.0" height="6.83" fill="#ff9f00"/>
<rect x="637.5" y="119.53" width="29.0" height="6.83" fill="#ff8f00"/>
<rect x="637.5" y="113.00" width="29.0" height="6.83" fill="#ff8000"/>
<rect x="637.5" y="106.47" width="29.0" height="6.83" fill="#ff7000"/>
<rect x="637.5" y="99.94" width="29.0" height="6.83" fill="#ff6000"/>
<rect x="637.5" y="93.41" width="29.0" height="6.83" fill="#ff5000"/>
<rect x="637.5" y="86.88" width="29.0" height="6.83" fill="#ff4000"/>
<rect x="637.5" y="80.34" width="29.0" height="6.83" fill="#ff3000"/>
<rect x="637.5" y="73.81" width="29.0" height="6.83" fill="#ff2000"/>
<rect x="637.5" y="67.28" width="29.0" height="6.83" fill="#ff1000"/>
<rect x="637.5" y="60.75" width="29.0" height="6.83" fill="#ff0000"/>
<rect x="637.5" y="54.22" width="29.0" height="6.83" fill="#ef0000"/>
<rect x="637.5" y="47.69" width="29.0" height="6.83" fill="#df0000"/>
<rect x="637.5" y="41.16" width="29.0" height="6.83" fill="#cf0000"/>
<rect x="637.5" y="34.62" width="29.0" height="6.83" fill="#bf0000"/>
<rect x="637.5" y="28.09" width="29.0" height="6.83" fill="#af0000"/>
<rect x="637.5" y="21.56" width="29.0" height="6.83" fill="#9f0000"/>
<rect x="637.5" y="15.03" width="29.0" height="6.83" fill="#8f0000"/>
<rect x="637.5" y="8.50" width="29.0" height="6.83" fill="#800000"/>
<rect x="637.5" y="8.5" width="29.0" height="418.0" fill="none" stroke="#000" stroke-width="1"/>
<path d="M638.0 368.5h4M666.0 368.5h-5M638.0 308.5h4M666.0 308.5h-5M638.0 248.5h4M666.0 248.5h-5M638.0 188.5h4M666.0 188.5h-5M638.0 128.5h4M666.0 128.5h-5M638.0 68.5h4M666.0 68.5h-5" stroke="#000" stroke-width="1" fill="none"/>
</g>
<g font-family="'Liberation Sans', sans-serif" font-size="21.2" fill="#000">
<text x="669.8" y="434.7">Jul06</text>
<text x="669.7" y="375.3" letter-spacing="0.3">Jan07</text>
<text x="669.8" y="315.9">Jul07</text>
<text x="669.7" y="255.5" letter-spacing="0.3">Jan08</text>
<text x="669.8" y="195.9">Jul08</text>
<text x="669.7" y="135.3" letter-spacing="0.3">Jan09</text>
<text x="669.8" y="76.3">Jul09</text>
<text x="669.7" y="15.2" letter-spacing="0.3">Jan10</text>
<text x="82.9" y="76.5" text-anchor="end">10</text><text x="82.7" y="63.6" font-size="13.5">0</text>
<text x="82.9" y="177.8" text-anchor="end">10</text><text x="82.7" y="164.9" font-size="13.5">−1</text>
<text x="82.9" y="279.1" text-anchor="end">10</text><text x="82.7" y="266.2" font-size="13.5">−2</text>
<text x="82.9" y="380.4" text-anchor="end">10</text><text x="82.7" y="367.5" font-size="13.5">−3</text>
<text x="125.8" y="456.7" text-anchor="middle">10<tspan font-size="13.5" dy="-12.6">−1</tspan></text>
<text x="307.8" y="456.7" text-anchor="middle">10<tspan font-size="13.5" dy="-12.6">0</tspan></text>
<text x="489.8" y="456.7" text-anchor="middle">10<tspan font-size="13.5" dy="-12.6">1</tspan></text>
<text x="359.9" y="478.6" text-anchor="middle" letter-spacing="0.1">Kinetic Energy [GeV]</text>
<text transform="translate(17.3,217.1) rotate(-90)" text-anchor="middle">Differential intensity</text>
<text transform="translate(46.3,216.8) rotate(-90)" text-anchor="middle">[part. (m<tspan font-size="16.8" dy="-9">2</tspan><tspan dy="9"> s sr MeV)</tspan><tspan font-size="16.8" dy="-9">−1</tspan><tspan dy="9">]</tspan></text>
</g>
</svg>
</body></html>
